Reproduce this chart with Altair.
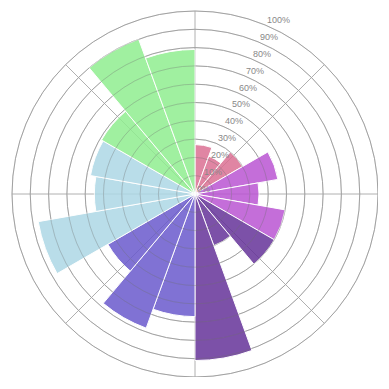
import math
import altair as alt
import pandas as pd

# 18 sectors of 20 degrees, clockwise from north
groups = ["g1", "g1", "g1", "g2", "g2", "g2", "g3", "g3", "g3",
          "g4", "g4", "g4", "g5", "g5", "g5", "g6", "g6", "g6"]
values = [27, 22, 30, 46, 35, 50, 50, 30, 91,
          67, 78, 55, 87, 55, 58, 59, 90, 79]
group_names = ["g1", "g2", "g3", "g4", "g5", "g6"]
group_colors = ["palevioletred", "mediumorchid", "rebeccapurple",
                "slateblue", "lightblue", "lightgreen"]
ring_levels = [10, 20, 30, 40, 50, 60, 70, 80, 90, 100]
label_levels = [0, 10, 20, 30, 40, 50, 60, 70, 80, 90, 100]
spoke_angles = [0, 45, 90, 135, 180, 225, 270, 315]

R = 183
CX = 183
CY = 183
N = len(values)

bars = pd.DataFrame({"idx": list(range(N)), "group": groups, "r": values})
rings = pd.DataFrame({"r": ring_levels})
labels = pd.DataFrame({"lvl": label_levels,
                       "text": [f"{v}%" for v in label_levels]})
spokes = pd.DataFrame({"a": spoke_angles})

rscale = alt.Scale(type="linear", domain=[0, 100], range=[0, R], zero=True)
tscale = alt.Scale(type="linear", domain=[0, N], range=[0, 2 * math.pi], zero=True)
xscale = alt.Scale(domain=[-100, 100], nice=False, zero=False)
yscale = alt.Scale(domain=[-100, 100], nice=False, zero=False)

spoke_layer = alt.Chart(spokes).transform_calculate(
    x0="0", y0="0",
    x1="100*sin(datum.a*PI/180)", y1="100*cos(datum.a*PI/180)"
).mark_rule(color="#b0b0b0", strokeWidth=1).encode(
    x=alt.X("x0:Q", scale=xscale, axis=None),
    y=alt.Y("y0:Q", scale=yscale, axis=None),
    x2="x1:Q", y2="y1:Q",
)

ring_under = alt.Chart(rings).mark_arc(
    theta=0, theta2=6.2832, fillOpacity=0, stroke="#b0b0b0", strokeWidth=1
).encode(
    radius=alt.Radius("r:Q", scale=rscale, stack=False),
    x=alt.value(CX), y=alt.value(CY),
)

bar_layer = alt.Chart(bars).transform_calculate(
    t0="datum.idx", t1="datum.idx + 1"
).mark_arc(
    stroke="white", strokeWidth=1, opacity=0.85
).encode(
    theta=alt.Theta("t0:Q", scale=tscale, stack=False),
    theta2="t1:Q",
    radius=alt.Radius("r:Q", scale=rscale, stack=False),
    color=alt.Color("group:N", scale=alt.Scale(domain=group_names, range=group_colors), legend=None),
    x=alt.value(CX), y=alt.value(CY),
)

ring_over = alt.Chart(rings).mark_arc(
    theta=0, theta2=6.2832, fillOpacity=0, stroke="#888888", strokeWidth=1, strokeOpacity=0.35
).encode(
    radius=alt.Radius("r:Q", scale=rscale, stack=False),
    x=alt.value(CX), y=alt.value(CY),
)

label_layer = alt.Chart(labels).transform_calculate(
    lx="datum.lvl*sin(22.5*PI/180)", ly="datum.lvl*cos(22.5*PI/180)"
).mark_text(align="left", baseline="bottom", dx=2, fontSize=9, color="#888888",
            font="Liberation Sans").encode(
    x=alt.X("lx:Q", scale=xscale, axis=None),
    y=alt.Y("ly:Q", scale=yscale, axis=None),
    text="text:N",
)

chart = alt.layer(spoke_layer, ring_under, bar_layer, ring_over, label_layer).properties(
    width=2 * R, height=2 * R,
    padding={"left": 4, "top": 3, "right": 0, "bottom": 0},
    autosize=alt.AutoSizeParams(type="none"),
).configure_view(strokeWidth=0)

chart.save("out.html", embed_options={"renderer": "svg", "actions": False})
